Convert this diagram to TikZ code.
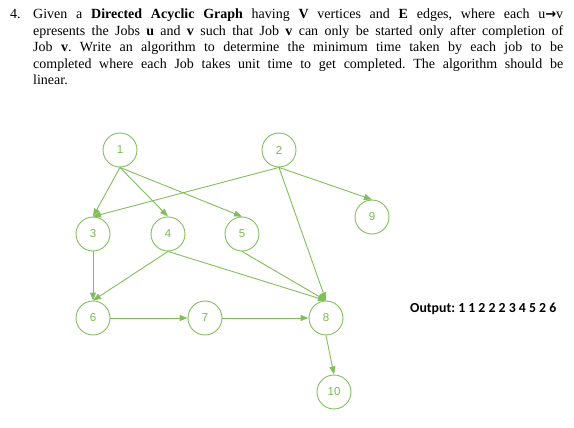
\documentclass[tikz,border=0pt]{standalone}
\usepackage{fontspec}
\setmainfont{Liberation Serif}
\newfontfamily\nodefont{Liberation Sans}
\newfontfamily\outfont{Carlito}
\newfontfamily\arrowfont{DejaVu Sans}
\usetikzlibrary{arrows.meta}
\definecolor{grn}{RGB}{128,190,92}
\definecolor{grntxt}{RGB}{120,185,85}
\begin{document}
\frenchspacing
\begin{tikzpicture}[x=1pt,y=-1pt,
  job/.style={circle,draw=grn,line width=0.9pt,minimum size=34pt,inner sep=0pt,
    text=grntxt,font=\nodefont\fontsize{11.5pt}{13pt}\selectfont},
  edge/.style={draw=grn,line width=0.9pt,-{Triangle[length=8pt,width=6pt]}},
  qline/.style={anchor=base west,inner sep=0pt,font=\frenchspacing\fontsize{14pt}{16.5pt}\selectfont}]
\useasboundingbox (0,0) rectangle (574,428);
% question text
\node[qline] (num) at (10,19) {4.};
\node[qline] (l1) at (33,19) {\makebox[530pt][s]{Given a \textbf{Directed Acyclic Graph} having \textbf{V} vertices and \textbf{E} edges, where each u{\arrowfont\bfseries\fontsize{13pt}{14pt}\selectfont →}v}};
\node[qline] (l2) at (33,35.5) {\makebox[530pt][s]{epresents the Jobs \textbf{u} and \textbf{v} such that Job \textbf{v} can only be started only after completion of}};
\node[qline] (l3) at (33,52) {\makebox[530pt][s]{Job \textbf{v}. Write an algorithm to determine the minimum time taken by each job to be}};
\node[qline] (l4) at (33,68.5) {\makebox[530pt][s]{completed where each Job takes unit time to get completed. The algorithm should be}};
\node[qline] (l5) at (33,85) {linear.};
% graph nodes
\node[job] (n1) at (120,150) {1};
\node[job] (n2) at (279,150) {2};
\node[job] (n3) at (93,234) {3};
\node[job] (n4) at (168,234) {4};
\node[job] (n5) at (242,234) {5};
\node[job] (n9) at (372,217) {9};
\node[job] (n6) at (93,318) {6};
\node[job] (n7) at (205,318) {7};
\node[job] (n8) at (326,318) {8};
\node[job] (n10) at (334,392) {10};
% edges
\draw[edge] (n1.south) -- (n3.north);
\draw[edge] (n1.south) -- (n4.north);
\draw[edge] (n1.south) -- (n5.north);
\draw[edge] (n2.south) -- (n3.north);
\draw[edge] (n2.south) -- (n9.north);
\draw[edge] (n2.south) -- (n8.north);
\draw[edge] (n3.south) -- (n6.north);
\draw[edge] (n4.south) -- (n6.north);
\draw[edge] (n4.south) -- (n8.north);
\draw[edge] (n5.south) -- (n8.north);
\draw[edge] (n6.east) -- (n7.west);
\draw[edge] (n7.east) -- (n8.west);
\draw[edge] (n8.south) -- (n10.north);
% output
\node[anchor=west,inner sep=0pt,font=\outfont\bfseries\fontsize{13.8pt}{16pt}\selectfont] (out) at (410,309) {Output: 1 1 2 2 2 3 4 5 2 6};
\end{tikzpicture}
\end{document}
